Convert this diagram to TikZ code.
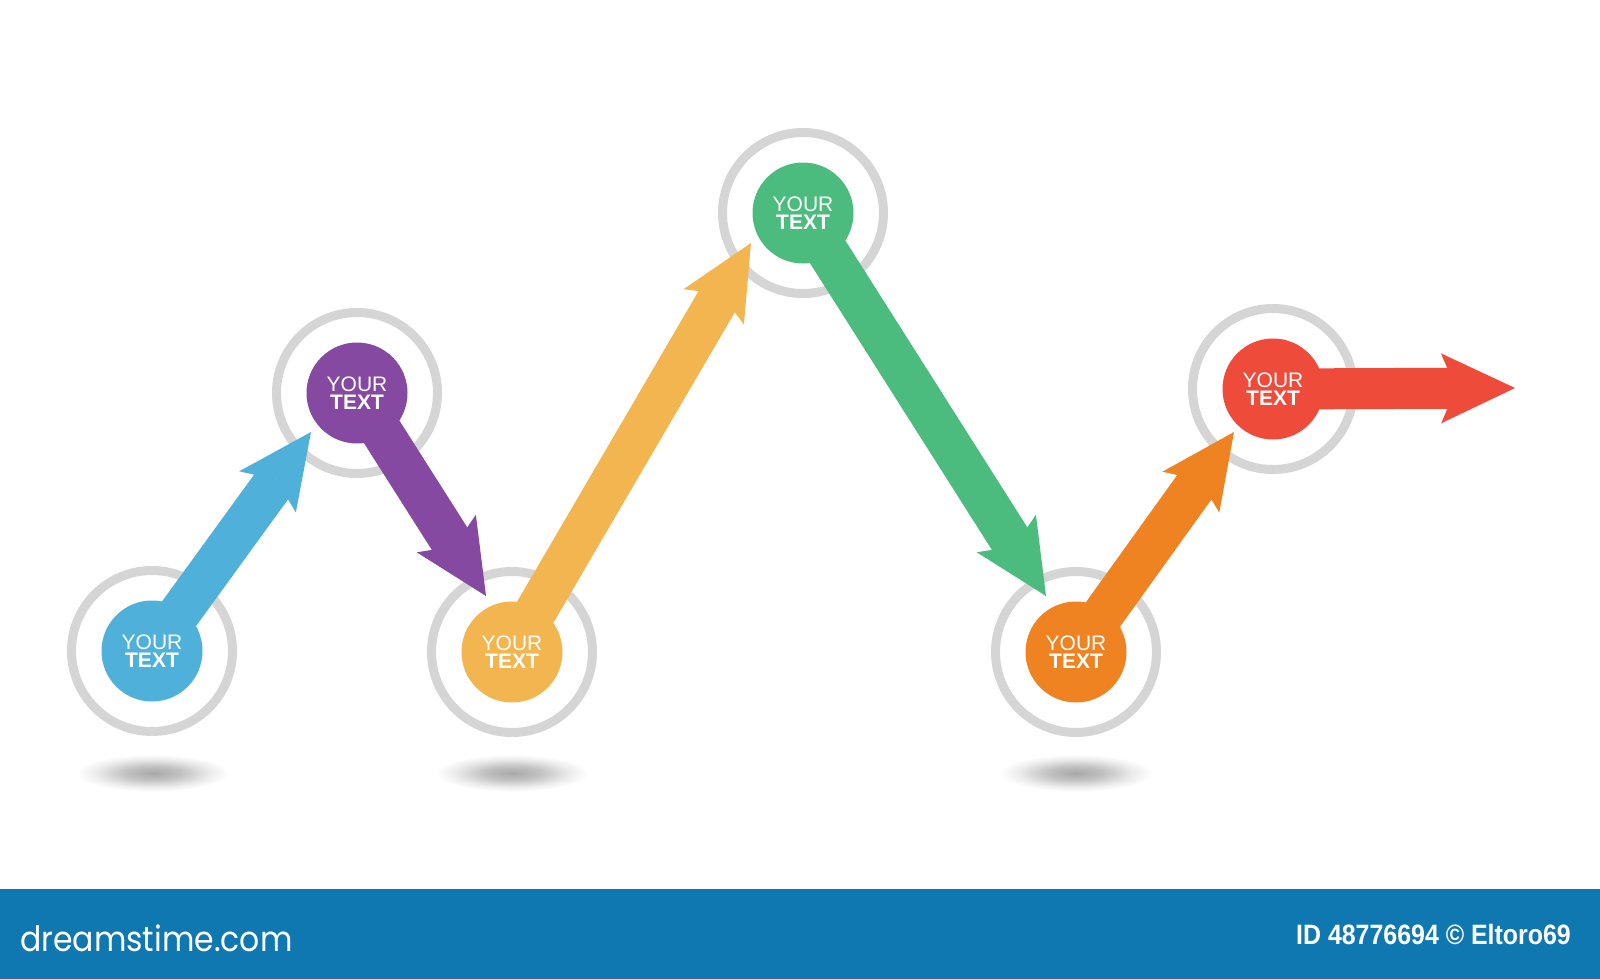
\documentclass[tikz,border=0pt]{standalone}
\usepackage{fontspec}
\usepackage{tikz}
\usepackage{xcolor}
\usetikzlibrary{arrows.meta}
\newfontfamily\labelfont{Liberation Sans}
\newfontfamily\logofont{Poppins}
\definecolor{stepblue}{HTML}{4FB1D9}
\definecolor{steppurple}{HTML}{8549A1}
\definecolor{stepyellow}{HTML}{F3B54F}
\definecolor{stepgreen}{HTML}{4CBB7E}
\definecolor{steporange}{HTML}{EF8322}
\definecolor{stepred}{HTML}{EF4B3A}
\definecolor{ringgray}{HTML}{D5D5D5}
\definecolor{bannerblue}{HTML}{0F78B1}
\pgfdeclarelayer{back}
\pgfdeclarelayer{mid}
\pgfsetlayers{back,mid,main}
\pgfdeclareradialshading{shadowshade}{\pgfpoint{0bp}{0bp}}{color(0bp)=(black!34); color(9bp)=(black!24); color(18bp)=(black!8); color(24.5bp)=(white); color(50bp)=(white)}

\begin{document}
\begin{tikzpicture}[x=1pt, y=-1pt,
  every node/.style={font=\labelfont\fontsize{21}{17.5}\selectfont},
  stepnode/.style={circle, minimum size=101pt, inner sep=0pt, text=white, align=center},
  ring/.style={draw=ringgray, line width=9pt},
  bigarrow/.style={line width=42pt, -{Stealth[length=74pt, width=70pt, inset=15pt, line width=0pt]}}]
  \useasboundingbox (0,0) rectangle (1600,979);
  % step circles
  \node[stepnode, fill=stepblue] (blue) at (152,651) {YOUR\\\textbf{TEXT}};
  \node[stepnode, fill=steppurple] (purple) at (357,393) {YOUR\\\textbf{TEXT}};
  \node[stepnode, fill=stepyellow] (yellow) at (512,652) {YOUR\\\textbf{TEXT}};
  \node[stepnode, fill=stepgreen] (green) at (803,213) {YOUR\\\textbf{TEXT}};
  \node[stepnode, fill=steporange] (orange) at (1076,652) {YOUR\\\textbf{TEXT}};
  \node[stepnode, fill=stepred] (red) at (1273,389) {YOUR\\\textbf{TEXT}};
  % arrow tips
  \coordinate (blue tip) at (311,432);
  \coordinate (purple tip) at (486,596);
  \coordinate (yellow tip) at (751,243);
  \coordinate (green tip) at (1046,596);
  \coordinate (orange tip) at (1234,432);
  \coordinate (red tip) at (1515,388);
  % rings and shadows
  \begin{pgfonlayer}{back}
    \foreach \x in {153,512,1076}
      {\shade[shading=shadowshade] (\x,773) ellipse (78pt and 19pt);}
    \foreach \n in {blue,purple,yellow,green,orange,red}
      {\draw[ring] (\n.center) circle (80.5pt);}
  \end{pgfonlayer}
  % arrows
  \begin{pgfonlayer}{mid}
    \foreach \n in {blue,purple,yellow,green,orange}
      {\draw[bigarrow, step\n] (\n.center) -- (\n\space tip);}
    \draw[bigarrow, stepred, line width=41pt] (red.center) -- (red tip);
  \end{pgfonlayer}
  % banner
  \fill[bannerblue] (0,889) rectangle (1600,979);
  \node[anchor=west, inner sep=0pt, text=white, font=\logofont\fontsize{35}{35}\selectfont, xscale=0.9] (logo) at (20,938) {dreamstime.com};
  \node[anchor=east, inner sep=0pt, text=white, font=\labelfont\bfseries\fontsize{28}{28}\selectfont, xscale=0.89] (credit) at (1571,934) {ID 48776694 © Eltoro69};
\end{tikzpicture}
\end{document}
